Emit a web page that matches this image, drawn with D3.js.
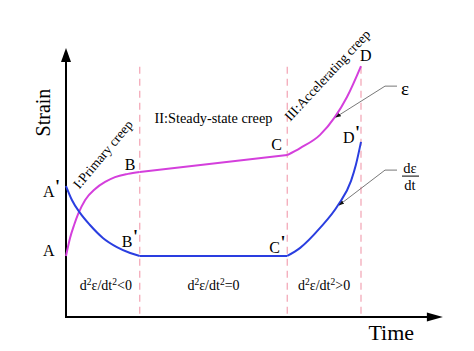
<!DOCTYPE html>
<html><head><meta charset="utf-8">
<script src="https://cdn.jsdelivr.net/npm/d3@7"></script>
<style>html,body{margin:0;padding:0;background:#fff;}svg{display:block;}</style>
</head><body>
<svg id="c" width="474" height="351"></svg>
<script>
// ---- data ----
const stageBounds = [0, 2, 6, 8];              // time at A, B, C, D
const strainT = [0, 0.11, 0.22, 0.33, 0.52, 0.79, 1.06, 1.33, 1.68, 2.0, 6.0, 6.35, 6.89, 7.29, 7.62, 8.0];
const strainV = [2.27, 2.94, 3.42, 3.83, 4.35, 4.76, 5.02, 5.20, 5.32, 5.39, 6.02, 6.28, 6.77, 7.43, 8.18, 9.33];
const rateT = [0, 0.16, 0.38, 0.65, 1.0, 1.38, 1.74, 2.0, 6.0, 6.35, 6.89, 7.38, 7.73, 7.86, 8.0];
const rateV = [4.87, 4.35, 3.87, 3.42, 2.94, 2.60, 2.38, 2.27, 2.27, 2.57, 3.31, 4.16, 5.06, 5.65, 6.51];
const stageNames = ["I:Primary creep", "II:Steady-state creep", "III:Accelerating creep"];
const stageConds = ["<0", "=0", ">0"];
const pointLabels = ["A", "B", "C", "D"];
const rateLabels = ["A", "B", "C", "D"];

const FONT = "Liberation Serif";
const svg = d3.select("#c");
const x = d3.scaleLinear().domain([0, 8]).range([66, 361]);
const y = d3.scaleLinear().domain([0, 10]).range([317, 48]);

const strain = strainT.map((t, i) => ({t, v: strainV[i]}));
const rate = rateT.map((t, i) => ({t, v: rateV[i]}));

// dashed stage boundaries
svg.selectAll("line.div").data(stageBounds.slice(1)).enter().append("line")
  .attr("x1", d => x(d)).attr("x2", d => x(d))
  .attr("y1", y(9.3)).attr("y2", y(0))
  .attr("stroke", "#f2a3b3").attr("stroke-width", 1.2).attr("stroke-dasharray", "7,5");

// axes
const xEnd = 10.22, yEnd = 10;
svg.append("line").attr("x1", x(0)).attr("x2", x(xEnd) - 10).attr("y1", y(0)).attr("y2", y(0))
  .attr("stroke", "#000").attr("stroke-width", 2);
svg.append("line").attr("x1", x(0)).attr("x2", x(0)).attr("y1", y(0) + 1).attr("y2", y(yEnd) + 10)
  .attr("stroke", "#000").attr("stroke-width", 2);
svg.append("path").attr("d", `M${x(xEnd)},${y(0)} L${x(xEnd)-16},${y(0)-4.5} L${x(xEnd)-16},${y(0)+4.5}Z`).attr("fill", "#000");
svg.append("path").attr("d", `M${x(0)},${y(yEnd)} L${x(0)-5},${y(yEnd)+14} L${x(0)+5},${y(yEnd)+14}Z`).attr("fill", "#000");

// curves, drawn stage by stage
const line = d3.line().x(d => x(d.t)).y(d => y(d.v)).curve(d3.curveMonotoneX);
function drawStages(data, color) {
  for (let s = 0; s < 3; s++) {
    const seg = data.filter(d => d.t >= stageBounds[s] && d.t <= stageBounds[s + 1]);
    svg.append("path").datum(seg).attr("d", line).attr("fill", "none")
      .attr("stroke", color).attr("stroke-width", 2);
  }
}
drawStages(strain, "#d43fdc");
drawStages(rate, "#2a3ee0");

// point labels
function valAt(data, t) { return data.find(d => d.t === t).v; }
const sOff = [[-23, 0], [-15, -2], [-16, -5], [-1, -5]];
stageBounds.forEach((t, i) => {
  svg.append("text").style("font-size", "16px").attr("x", x(t) + sOff[i][0]).attr("y", y(valAt(strain, t)) + sOff[i][1]).text(pointLabels[i]);
});
const rOff = [[-23, 11], [-18, -9], [-18, -3], [-18, 1]];
stageBounds.forEach((t, i) => {
  const g = svg.append("text").style("font-size", "16px").attr("x", x(t) + rOff[i][0]).attr("y", y(valAt(rate, t)) + rOff[i][1]);
  g.append("tspan").text(rateLabels[i]);
  g.append("tspan").style("font-size", "18px").style("font-weight", "bold").attr("dx", 0.5).attr("dy", -4).text("'");
});

// stage names
svg.append("text").style("font-size", "13.5px").attr("transform", `translate(${x(0.36)},${y(4.74)}) rotate(-50)`).text(stageNames[0]);
svg.append("text").style("font-size", "14.3px").attr("x", (x(2) + x(6)) / 2).attr("y", y(7.2)).attr("text-anchor", "middle").text(stageNames[1]);
svg.append("text").style("font-size", "13.5px").attr("transform", `translate(${x(6.08)},${y(7.26)}) rotate(-47)`).text(stageNames[2]);

// conditions
stageConds.forEach((c, i) => {
  const cx = i === 0 ? (x(stageBounds[0]) + x(stageBounds[1])) / 2 + 3 : (x(stageBounds[i]) + x(stageBounds[i + 1])) / 2;
  const t = svg.append("text").style("font-size", "14px").attr("x", cx).attr("y", y(1.0)).attr("text-anchor", "middle");
  t.append("tspan").text("d");
  t.append("tspan").style("font-size", "9.5px").attr("dy", -5).text("2");
  t.append("tspan").attr("dy", 5).text("ε/dt");
  t.append("tspan").style("font-size", "9.5px").attr("dy", -5).text("2");
  t.append("tspan").attr("dy", 5).text(c);
});

// axis titles
svg.append("text").attr("transform", `translate(50,${y(7.6)}) rotate(-90)`).attr("text-anchor", "middle")
  .style("font-size", "20px").text("Strain");
svg.append("text").attr("x", x(8.2)).attr("y", 340).style("font-size", "22px").text("Time");

// annotation leaders
svg.append("defs").append("marker").attr("id", "ah").attr("viewBox", "0 0 10 10").attr("refX", 9).attr("refY", 5)
  .attr("markerWidth", 7).attr("markerHeight", 7).attr("orient", "auto")
  .append("path").attr("d", "M0,1.5 L10,5 L0,8.5Z").attr("fill", "#111");
function leader(t, v, label, frac) {
  const px = x(t), py = y(v);
  const kx = 385, ky = frac ? py - 35 : py - 31;
  svg.append("path").attr("d", `M397,${ky} L${kx},${ky} L${px + 1},${py}`).attr("fill", "none")
    .attr("stroke", "#555").attr("stroke-width", 0.8).attr("marker-end", "url(#ah)");
  if (!frac) {
    svg.append("text").attr("x", 401).attr("y", ky + 9).style("font-size", "19px").text(label);
  } else {
    svg.append("text").style("font-size", "14.5px").attr("text-anchor", "middle").attr("x", 410).attr("y", ky + 3).text("dε");
    svg.append("line").attr("x1", 402).attr("x2", 419).attr("y1", ky + 6).attr("y2", ky + 6).attr("stroke", "#000").attr("stroke-width", 1);
    svg.append("text").style("font-size", "14.5px").attr("text-anchor", "middle").attr("x", 410).attr("y", ky + 20).text("dt");
  }
}
leader(7.29, 7.43, "ε", false);
leader(7.38, 4.16, "", true);

svg.selectAll("text").style("font-family", FONT).attr("fill", "#000");
</script>
</body></html>
